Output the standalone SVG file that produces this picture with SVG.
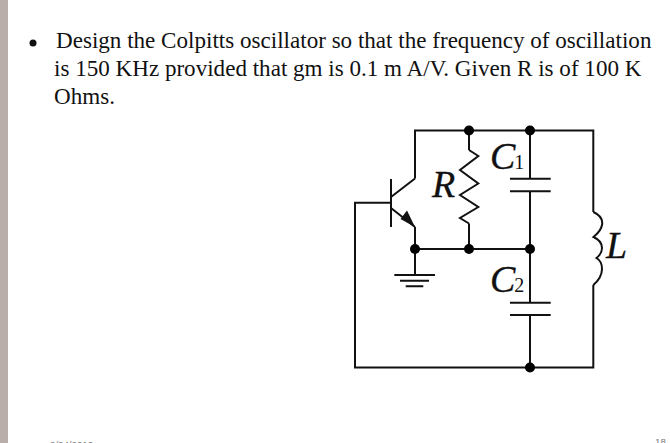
<svg xmlns="http://www.w3.org/2000/svg" width="670" height="443" viewBox="0 0 670 443">
<style>
text{font-family:"Liberation Serif","Times New Roman",serif;fill:#111}
.body{font-size:23.080px}
.sym{font-size:38px;font-style:italic;stroke:#111;stroke-width:.3px}
.sub{font-size:20px;font-style:normal;stroke:none}
.foot{font-family:"Liberation Sans",Arial,sans-serif;font-size:9.700px;fill:#777}
.w{fill:none;stroke:#111;stroke-width:2;stroke-linejoin:miter}
.dot{fill:#000}
</style>
<rect width="670" height="443" fill="#fff"/>
<rect id="band" x="0" y="0" width="8" height="443" fill="#b9aeaa"/>
<g id="question">
<circle cx="33" cy="43" r="3.5" fill="#111"/>
<text class="body" x="56" y="48">Design the Colpitts oscillator so that the frequency of oscillation</text>
<text class="body" x="54" y="76">is 150 KHz provided that gm is 0.1 m A/V. Given R is of 100 K</text>
<text class="body" x="54" y="104">Ohms.</text>
</g>
<g id="connectors" class="w">
<path class="w" d="M415 178.5V130.5H593.3V212M593.3 285V367.5H355V202.7H391"/>
<path class="w" d="M469 130.5V150M469 223.5V249M415 227V249H530M530 130.5V178.7M530 191.3V302.700M530 315V367.5M415 249V275"/>
</g>
<g id="transistor">
<path class="w" d="M391 179V227M391 197L415 178.5M391 208L415 227"/>
<polygon points="415,227 400.500,219 407,210.500" fill="#111"/>
</g>
<g id="resistor-R">
<path class="w" d="M469 150L478.300 156L460 170L478.300 183.500L460 195L478.300 207L460 218L469 223.500"/>
<text class="sym" x="432" y="197">R</text>
</g>
<g id="capacitor-C1">
<path class="w" d="M510 178.700H550.700M510 191.300H550.700"/>
<text class="sym" x="490" y="169">C<tspan class="sub" dx="-1">1</tspan></text>
</g>
<g id="capacitor-C2">
<path class="w" d="M510 302.700H550.700M510 315H550.700"/>
<text class="sym" x="490" y="292">C<tspan class="sub" dx="-1">2</tspan></text>
</g>
<g id="inductor-L">
<path class="w" d="M593.300 212C600 215 603 220 602 225C601 231 597 234 593.500 237C598 239 602 243 602 248C602 253 599 256 596.500 258C600 260 602 264 602 269C602 276 598 281 593.300 285"/>
<text class="sym" x="606" y="258">L</text>
</g>
<g id="ground">
<path class="w" d="M394.300 275H435M400 280.700H429M405.700 286.300H423.300"/>
</g>
<g id="junctions">
<circle class="dot" cx="469" cy="130.500" r="5"/>
<circle class="dot" cx="530" cy="130.500" r="5"/>
<circle class="dot" cx="415" cy="249" r="5"/>
<circle class="dot" cx="469" cy="249" r="5"/>
<circle class="dot" cx="530" cy="249" r="5"/>
<circle class="dot" cx="530" cy="367.500" r="5"/>
</g>
<g id="footer">
<text class="foot" x="50" y="447.500">2/24/2010</text>
<text class="foot" x="655" y="444.500">18</text>
</g>
</svg>
